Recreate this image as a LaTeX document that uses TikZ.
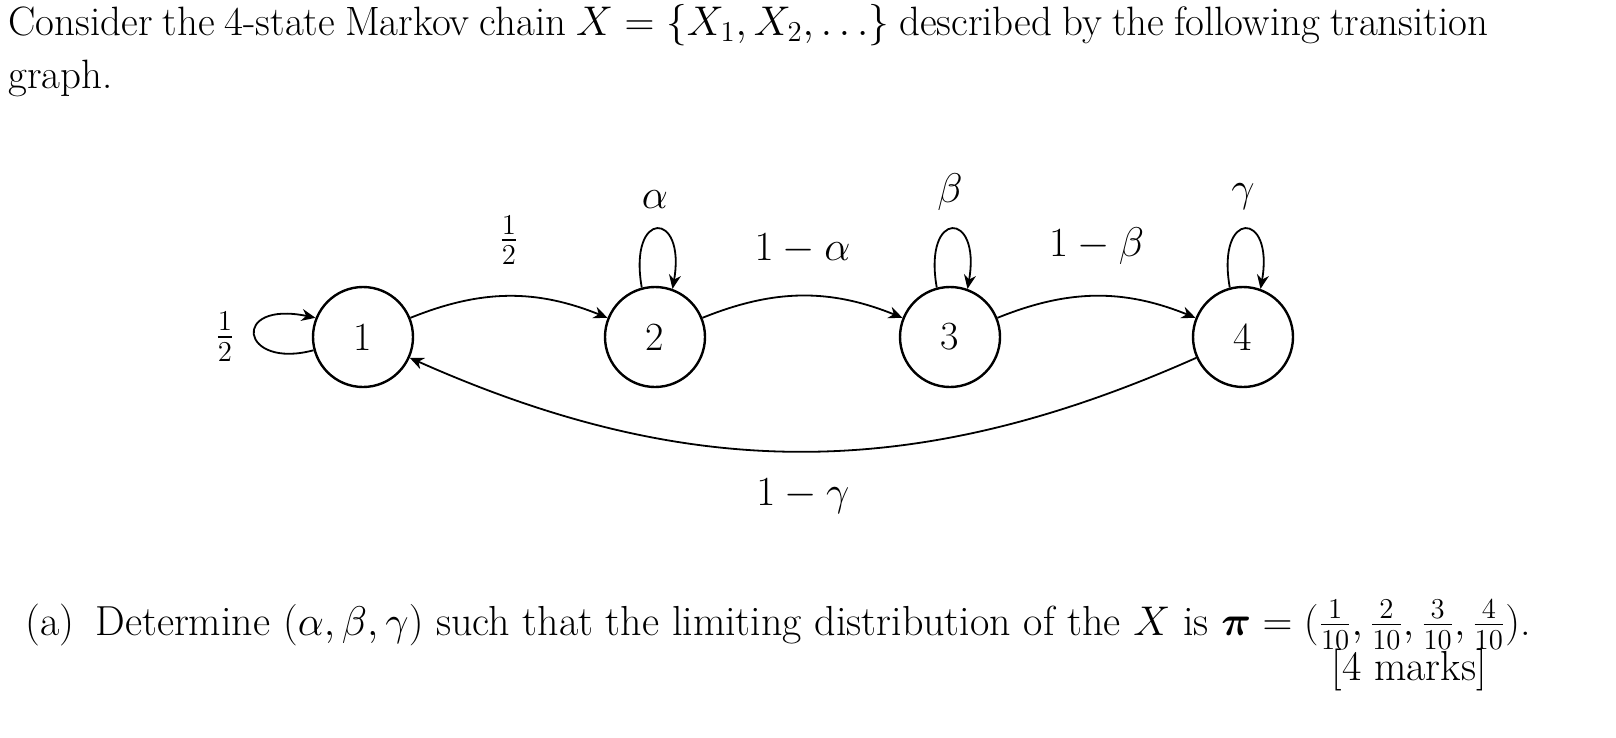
\documentclass[tikz,border=0pt]{standalone}
\usepackage{amsmath,bm}
\usetikzlibrary{arrows.meta}
\begin{document}
\begin{tikzpicture}[x=0.5pt,y=-0.5pt,
  st/.style={circle,draw,line width=1.2pt,minimum size=50pt,inner sep=0pt,font=\fontsize{20}{24}\selectfont},
  lab/.style={font=\fontsize{20}{24}\selectfont},
  arr/.style={line width=0.9pt,-{Stealth[length=7pt,width=6pt]}}]
\node[anchor=north west,inner sep=0pt] (txt) at (8,4) {\parbox{740pt}{\fontsize{20.5}{26.5}\selectfont Consider the 4-state Markov chain $X=\{X_1,X_2,\ldots\}$ described by the following transition graph.}};
\node[st] (n1) at (363,337) {1};
\node[st] (n2) at (655,337) {2};
\node[st] (n3) at (950,337) {3};
\node[st] (n4) at (1243,337) {4};
\draw[arr] (n1) to[bend left=22] node[lab,above=12pt,pos=0.5] {$\frac12$} (n2);
\draw[arr] (n2) to[bend left=22] node[lab,above=12pt] {$1-\alpha$} (n3);
\draw[arr] (n3) to[bend left=22] node[lab,above=12pt] {$1-\beta$} (n4);
\draw[arr] (n4) to[bend left=24] node[lab,below=10pt] {$1-\gamma$} (n1);
\draw[arr] (n1.195) .. controls (240,370) and (230,300) .. (n1.158);
\node[lab] (h1) at (225,337) {$\frac12$};
\foreach \n in {n2,n3,n4}{
  \draw[arr] (\n.105) .. controls +(100:40pt) and +(80:40pt) .. (\n.70);
}
\node[lab] (la) at (655,200) {$\alpha$};
\node[lab] (lb) at (950,192) {$\beta$};
\node[lab] (lg) at (1243,197) {$\gamma$};
\node[anchor=base west,inner sep=0pt,font=\fontsize{21}{24}\selectfont] (qa) at (25,635) {(a)\enspace Determine $(\alpha,\beta,\gamma)$ such that the limiting distribution of the $X$ is $\bm{\pi}=(\frac1{10},\frac2{10},\frac3{10},\frac4{10})$.};
\node[anchor=base east,inner sep=0pt,font=\fontsize{21}{24}\selectfont] (mk) at (1487,680) {[4 marks]};
\pgfresetboundingbox
\useasboundingbox (0,0) rectangle (1616,738);
\end{tikzpicture}
\end{document}
